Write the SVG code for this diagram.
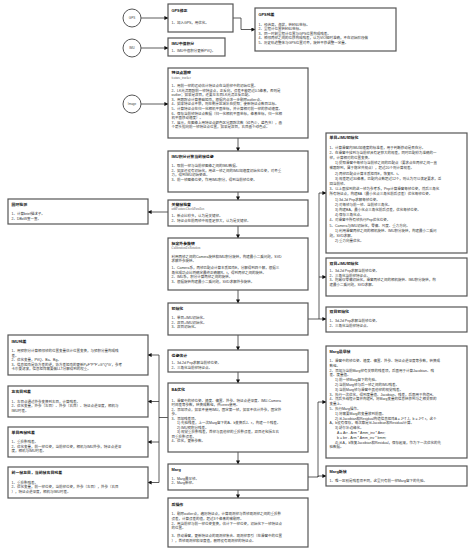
<svg xmlns="http://www.w3.org/2000/svg" width="474" height="555" viewBox="0 0 474 555">
<defs>
<marker id="ah" viewBox="0 0 10 10" refX="9" refY="5" markerWidth="4" markerHeight="4" orient="auto" markerUnits="userSpaceOnUse"><path d="M0,0 L10,5 L0,10 z" fill="#111"/></marker>
<style>
.box{fill:#fff;stroke:#555;stroke-width:1.2}
.cir{fill:#fff;stroke:#555;stroke-width:1}
.ln{fill:none;stroke:#333;stroke-width:0.8;marker-end:url(#ah)}
.ln2{fill:none;stroke:#333;stroke-width:0.8}
text{font-family:"Liberation Sans","Noto Sans CJK SC",sans-serif;fill:#333}
.t{font-size:3.9px;font-weight:bold;fill:#111}
.b{font-size:3.5px}
.s{font-size:3.2px;font-family:"Liberation Serif","Noto Sans CJK SC",serif;fill:#666}
.c{font-size:3px;text-anchor:middle;fill:#444}
</style>
</defs>
<rect width="474" height="555" fill="#fff"/>
<g id="connectors">
<path class="ln" d="M141,18 H168"/>
<path class="ln" d="M141,48 H168"/>
<path class="ln" d="M141,104 H168"/>
<path class="ln" d="M233,18 H241 V29.5 H255"/>
<path class="ln" d="M238,138 V151"/>
<path class="ln" d="M238,192 V200"/>
<path class="ln" d="M238,226 V238"/>
<path class="ln" d="M238,290 V303"/>
<path class="ln" d="M238,335 V350"/>
<path class="ln" d="M238,372 V383"/>
<path class="ln" d="M238,452 V464"/>
<path class="ln" d="M238,490 V498"/>
<path class="ln" d="M168,212 H148"/>
<path class="ln2" d="M168,417.5 H159"/>
<path class="ln2" d="M159,355 V482.5"/>
<path class="ln" d="M159,355 H148"/>
<path class="ln" d="M159,401.5 H148"/>
<path class="ln" d="M159,442 H148"/>
<path class="ln" d="M159,482.5 H148"/>
<path class="ln" d="M308,319 H326"/>
<path class="ln2" d="M319,319 V193"/>
<path class="ln" d="M319,193 H326"/>
<path class="ln" d="M319,277 H326"/>
<path class="ln" d="M308,477 H318 V476 H326"/>
<path class="ln2" d="M318,477 V402"/>
<path class="ln" d="M318,402 H326"/>
</g>
<g id="gps"><circle class="cir" cx="132" cy="18" r="9"/><text class="c" x="132" y="19">GPS</text></g>
<g id="imu"><circle class="cir" cx="132" cy="48" r="9"/><text class="c" x="132" y="49">IMU</text></g>
<g id="image"><circle class="cir" cx="132" cy="104" r="9"/><text class="c" x="132" y="105">Image</text></g>
<g id="gps_fix"><rect class="box" x="168" y="4" width="65" height="28"/>
<text class="t" x="171.5" y="12">GPS修正</text>
<text class="b" x="171.5" y="24">1、加入GPS，用优化。</text></g>
<g id="gps_res"><rect class="box" x="255" y="8" width="141" height="43"/>
<text class="t" x="258.5" y="16">GPS残差</text>
<text class="b"><tspan x="258.5" y="25.5">1、经纬高，海拔，转ENU坐标。</tspan><tspan x="258.5" y="30">2、里程计位置转ENU坐标。</tspan><tspan x="258.5" y="34.5">3、同一时刻里程计位置与GPS位置构成残差。</tspan><tspan x="258.5" y="39">4、相邻两帧之间的位移构成残差，认为VIO短时准确，不在初始阶段做</tspan><tspan x="258.5" y="43.5">5、历史轨迹整体与GPS位置对齐，旋转平移调整一定量。</tspan></text></g>
<g id="imu_mid"><rect class="box" x="168" y="38" width="57" height="18"/>
<text class="t" x="171.5" y="44.5">IMU中值积分</text>
<text class="b" x="171.5" y="52">1、IMU中值积分更新PVQ。</text></g>
<g id="feature_tracker"><rect class="box" x="168" y="68" width="140" height="70"/>
<text class="t" x="171.5" y="74">特征点跟踪</text>
<text class="s" x="171.5" y="78.5">feature_tracker</text>
<text class="b"><tspan x="171.5" y="87">1、用前一帧的运动估计特征点在当前帧中的初始位置。</tspan><tspan x="171.5" y="91.6">2、LK光流跟踪前一帧特征点，正反向，误差不能超过0.5像素，否则是</tspan><tspan x="171.5" y="96.2">outlier；如果是双目，还要左右目LK光流正反匹配。</tspan><tspan x="171.5" y="100.8">3、用跟踪点计算基础矩阵，根据内点进一步剔除outlier点。</tspan><tspan x="171.5" y="105.4">4、如果特征点不够，则在剩余区域补充提取；使新特征点数目达标。</tspan><tspan x="171.5" y="110">5、计算特征点在归一化相机平面坐标，并计算相对前一帧的移动速度。</tspan><tspan x="171.5" y="114.6">6、保存当前帧特征点数据（归一化相机平面坐标，像素坐标，归一化相</tspan><tspan x="171.5" y="119.2">机平面移动速度）。</tspan><tspan x="171.5" y="123.8">7、展示，在图像上用特征点颜色区分跟踪次数（红色少，蓝色多），画</tspan><tspan x="171.5" y="128.4">个箭头指向前一帧特征点位置，如果是双目，右目画个绿色点。</tspan></text></g>
<g id="imu_pose"><rect class="box" x="168" y="151" width="140" height="41"/>
<text class="t" x="171.5" y="157.5">IMU积分计算当前帧位姿</text>
<text class="b"><tspan x="171.5" y="167">1、取前一帧与当前帧图像之间的IMU数据。</tspan><tspan x="171.5" y="171.5">2、如果还没有初始化，用这一帧之间的IMU加速度初始化位姿，对齐重</tspan><tspan x="171.5" y="176">力，得到IMU初始姿态。</tspan><tspan x="171.5" y="180.5">3、前一帧图像位姿，作用IMU积分，得到当前帧位姿。</tspan></text></g>
<g id="keyframe"><rect class="box" x="168" y="200" width="140" height="26"/>
<text class="t" x="171.5" y="205.5">关键帧检查</text>
<text class="s" x="171.5" y="209.5">addFeatureCheckParallax</text>
<text class="b"><tspan x="171.5" y="217">1、新点比较多，认为是关键帧。</tspan><tspan x="171.5" y="221.5">2、特征点在前两帧中视差足够大，认为是关键帧。</tspan></text></g>
<g id="calib"><rect class="box" x="168" y="238" width="140" height="52"/>
<text class="t" x="171.5" y="244.5">标定外参旋转</text>
<text class="s" x="171.5" y="249">CalibrationExRotation</text>
<text class="b"><tspan x="171.5" y="257.5">利用两帧之间的Camera旋转和IMU积分旋转，构建最小二乘问题，SVD</tspan><tspan x="171.5" y="262">求解外参旋转。</tspan><tspan x="171.5" y="269">1、Camera系，两帧匹配点计算本质矩阵E，分解得到四个解，根据三</tspan><tspan x="171.5" y="273.5">角化成功点比例确定最终正确解R、t，得到两帧之间的旋转。</tspan><tspan x="171.5" y="278">2、IMU系，积分计算两帧之间的旋转。</tspan><tspan x="171.5" y="282.5">3、根据旋转构建最小二乘问题，SVD求解外参旋转。</tspan></text></g>
<g id="init"><rect class="box" x="168" y="303" width="140" height="32"/>
<text class="t" x="171.5" y="310">初始化</text>
<text class="b"><tspan x="171.5" y="319">1、单目+IMU初始化。</tspan><tspan x="171.5" y="323.5">2、双目+IMU初始化。</tspan><tspan x="171.5" y="328">3、双目初始化。</tspan></text></g>
<g id="pose_est"><rect class="box" x="168" y="350" width="140" height="22"/>
<text class="t" x="171.5" y="356.5">位姿估计</text>
<text class="b"><tspan x="171.5" y="364">1、3d-2d Pnp求解当前帧位姿。</tspan><tspan x="171.5" y="368.5">2、三角化当前帧特征点。</tspan></text></g>
<g id="ba"><rect class="box" x="168" y="383" width="140" height="69"/>
<text class="t" x="171.5" y="391">BA优化</text>
<text class="b"><tspan x="171.5" y="401.5">1、滑窗中的帧位姿、速度、偏置、外参、特征点逆深度、IMU-Camera</tspan><tspan x="171.5" y="406">时间差等参数，转换成数组，供ceres使用。</tspan><tspan x="171.5" y="410.5">2、添加顶点，如果不使用IMU，固定第一帧，如果不估计外参，固定外</tspan><tspan x="171.5" y="415">参。</tspan><tspan x="171.5" y="419.5">3、添加残差项。</tspan><tspan x="177" y="424">1) 先验残差，上一次Marg留下的A、b变换后J、r，构建一个残差。</tspan><tspan x="177" y="428.5">2) IMU预积分残差。</tspan><tspan x="177" y="433">3) 视觉重投影残差，首帧与其他帧的重投影误差，双目还包括左右</tspan><tspan x="171.5" y="437.5">目重投影误差。</tspan><tspan x="171.5" y="442">4、优化，更新参数。</tspan></text></g>
<g id="marg"><rect class="box" x="168" y="464" width="140" height="26"/>
<text class="t" x="171.5" y="470.5">Marg</text>
<text class="b"><tspan x="171.5" y="479.5">1、Marg最早帧。</tspan><tspan x="171.5" y="484">2、Marg新帧。</tspan></text></g>
<g id="post"><rect class="box" x="168" y="498" width="140" height="49"/>
<text class="t" x="171.5" y="505.5">后操作</text>
<text class="b"><tspan x="171.5" y="515">1、剔除outlier点，遍历特征点，计算观测帧与首帧观测帧之间的重投影</tspan><tspan x="171.5" y="519.5">误差，计算误差的值，超过3个像素的被剔除。</tspan><tspan x="171.5" y="524.5">2、用当前帧与前一帧位姿变换，估计下一帧位姿，初始化下一帧特征点</tspan><tspan x="171.5" y="529">的位置。</tspan><tspan x="171.5" y="537">3、移动滑窗，更新特征点的观测帧集合、观测帧索引（在滑窗中的位置</tspan><tspan x="171.5" y="541.5">），首帧观测帧和深度值，删除没有观测帧的特征点。</tspan></text></g>
<g id="mono_imu_init"><rect class="box" x="326" y="133" width="141" height="120"/>
<text class="t" x="329.5" y="139">单目+IMU初始化</text>
<text class="b"><tspan x="329.5" y="148.5">1、计算滑窗内IMU加速度的标准差，用于判断移动是否充分。</tspan><tspan x="329.5" y="153.7">2、在滑窗中找到与当前帧具有足够大的视差，同时匹配较为准确的一</tspan><tspan x="329.5" y="158.9">帧，计算相对的位置变换。</tspan><tspan x="335" y="164.1">1) 提取滑窗中每帧与当前帧之间的匹配点（要求点在两帧之间一直</tspan><tspan x="329.5" y="169.3">被跟踪到，属于稳定共视点），超过20个则计算视差。</tspan><tspan x="335" y="174.5">2) 两帧匹配点计算本质矩阵E，恢复R、t。</tspan><tspan x="335" y="179.7">3) 视差超过30像素，匹配内点数超过12个，则认为可以满足要求，返</tspan><tspan x="329.5" y="184.9">回当前帧。</tspan><tspan x="329.5" y="190.1">3、以上面找到的这一帧为参考系，Pnp计算滑窗每帧位姿，然后三角化</tspan><tspan x="329.5" y="195.3">所有特征点，构建BA（最小化点三角化前后误差）优化每帧位姿。</tspan><tspan x="335" y="200.5">1) 3d-2d Pnp求解每帧位姿。</tspan><tspan x="335" y="205.7">2) 对每帧与前一帧、当前帧三角化。</tspan><tspan x="335" y="210.9">3) 构建BA，最小化点三角化前后误差，优化每帧位姿。</tspan><tspan x="335" y="216.1">4) 保存三角化点。</tspan><tspan x="329.5" y="221.3">4、对滑窗中所有帧执行Pnp优化位姿。</tspan><tspan x="329.5" y="226.5">5、Camera与IMU初始化，零偏、尺度、重力方向。</tspan><tspan x="335" y="231.7">1) 利用滑窗两帧之间的相机旋转、IMU积分旋转，构建最小二乘问</tspan><tspan x="329.5" y="236.9">题，SVD求解。</tspan><tspan x="335" y="242.1">2) 重力向量优化。</tspan></text></g>
<g id="stereo_imu_init"><rect class="box" x="326" y="258" width="141" height="38"/>
<text class="t" x="329.5" y="264.5">双目+IMU初始化</text>
<text class="b"><tspan x="329.5" y="272">1、3d-2d Pnp求解当前帧位姿。</tspan><tspan x="329.5" y="276.5">2、三角化当前帧特征点。</tspan><tspan x="329.5" y="281">3、陀螺仪零偏初始化，滑窗两帧之间的相机旋转、IMU积分旋转，构</tspan><tspan x="329.5" y="285.5">建最小二乘问题，SVD求解。</tspan></text></g>
<g id="stereo_init"><rect class="box" x="326" y="307" width="141" height="25"/>
<text class="t" x="329.5" y="313">双目初始化</text>
<text class="b"><tspan x="329.5" y="322">1、3d-2d Pnp求解当前帧位姿。</tspan><tspan x="329.5" y="326.5">2、三角化当前帧特征点。</tspan></text></g>
<g id="marg_old"><rect class="box" x="326" y="346" width="141" height="112"/>
<text class="t" x="329.5" y="352.5">Marg最早帧</text>
<text class="b"><tspan x="329.5" y="362">1、滑窗中的帧位姿、速度、偏置、外参、特征点逆深度等参数，转换成</tspan><tspan x="329.5" y="366.8">数组。</tspan><tspan x="329.5" y="371.6">2、添加与当前Marg帧有关联的残差项，后面用于计算Jacobian、残</tspan><tspan x="329.5" y="376.4">差、度量值。</tspan><tspan x="335" y="381.2">1) 前一帧Marg留下的先验。</tspan><tspan x="335" y="386">2) 当前Marg帧与后一帧之间的IMU残差。</tspan><tspan x="335" y="390.8">3) 当前Marg帧与滑窗中其他帧的视觉残差。</tspan><tspan x="329.5" y="395.6">3、执行一次优化，得到度量值、Jacobian、残差，后面用于构造H。</tspan><tspan x="329.5" y="400.4">4、然后多线程计算并构建H，将Marg变量的信息转移到与之相关联的</tspan><tspan x="329.5" y="405.2">变量上。</tspan><tspan x="329.5" y="410">5、执行Marg操作。</tspan><tspan x="335" y="414.8">1) 将需要Marg的变量放到前面。</tspan><tspan x="335" y="419.6">2) 从Jacobian和Residual构造信息矩阵A = J^T J，b = J^T r，这个</tspan><tspan x="329.5" y="424.4">A，b没有保存，每次都是从Jacobian和Residual计算。</tspan><tspan x="335" y="429.2">3) 舒尔补边缘化。</tspan><tspan x="337" y="434">A = Arr - Arm * Amm_inv * Amr;</tspan><tspan x="337" y="438.8">b = brr - Arm * Amm_inv * bmm;</tspan><tspan x="335" y="443.6">4) 从A，b恢复Jacobian和Residual，保存起来，作为下一次优化的先</tspan><tspan x="329.5" y="448.4">验数据。</tspan></text></g>
<g id="marg_new"><rect class="box" x="326" y="466" width="141" height="20"/>
<text class="t" x="329.5" y="472.5">Marg新帧</text>
<text class="b" x="329.5" y="482">1、唯一区别是残差项不同，这里只有前一帧Marg留下的先验。</text></g>
<g id="loop"><rect class="box" x="8" y="199" width="140" height="25"/>
<text class="t" x="11.5" y="206">回环检测</text>
<text class="b"><tspan x="11.5" y="215">1、计算brief描述子。</tspan><tspan x="11.5" y="219.5">2、DBoW查一查。</tspan></text></g>
<g id="imu_res"><rect class="box" x="8" y="335" width="140" height="40"/>
<text class="t" x="11.5" y="342.5">IMU残差</text>
<text class="b"><tspan x="11.5" y="352">1、用预积分计算相邻帧的位置变量估计位置变换，与预积分量构成残</tspan><tspan x="11.5" y="356.5">差。</tspan><tspan x="11.5" y="361">2、优化变量，PVQ、Ba、Bg。</tspan><tspan x="11.5" y="365.5">3、信息矩阵是协方差的逆，协方差矩阵的更新P=F*P*F'+G*Q*G'，参考</tspan><tspan x="11.5" y="370">卡尔曼滤波，信息矩阵需要做LLT分解得到的权重。</tspan></text></g>
<g id="lr_res"><rect class="box" x="8" y="386" width="140" height="31"/>
<text class="t" x="11.5" y="393">左右目残差</text>
<text class="b"><tspan x="11.5" y="402.5">1、左目点通过外参变换到右目，计算残差。</tspan><tspan x="11.5" y="407">2、优化变量，外参（左目）、外参（右目）、特征点逆深度，相机与</tspan><tspan x="11.5" y="411.5">IMU时差。</tspan></text></g>
<g id="mono_res"><rect class="box" x="8" y="427" width="140" height="30"/>
<text class="t" x="11.5" y="433.5">单目两帧残差</text>
<text class="b"><tspan x="11.5" y="443">1、重投影残差。</tspan><tspan x="11.5" y="447.5">2、优化变量，前一帧位姿，当前帧位姿，相机与IMU外参，特征点逆深</tspan><tspan x="11.5" y="452">度，相机与IMU时差。</tspan></text></g>
<g id="prev_left_cur_right_res"><rect class="box" x="8" y="467" width="140" height="31"/>
<text class="t" x="11.5" y="474">前一帧左目，当前帧右目残差</text>
<text class="b"><tspan x="11.5" y="483.5">1、重投影残差。</tspan><tspan x="11.5" y="488">2、优化变量，前一帧位姿，当前帧位姿，外参（左目），外参（右目</tspan><tspan x="11.5" y="492.5">），特征点逆深度，相机与IMU时差。</tspan></text></g>
</svg>
